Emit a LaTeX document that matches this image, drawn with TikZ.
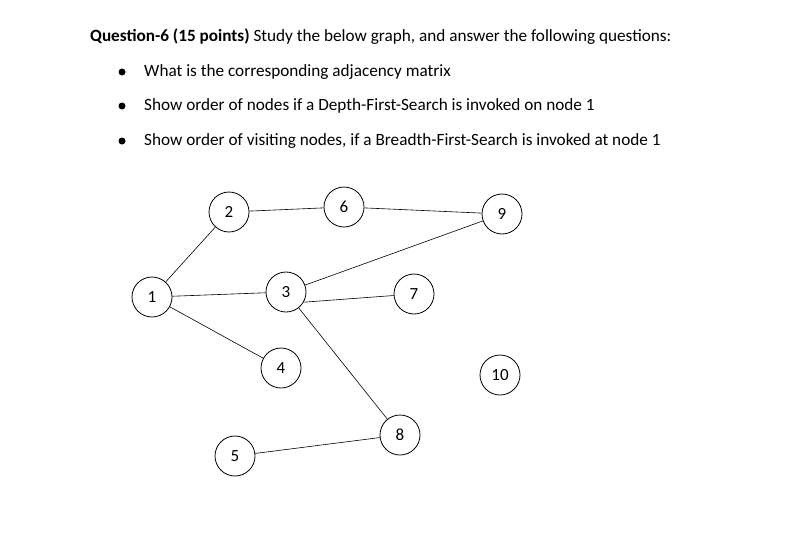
\documentclass[tikz,border=0pt]{standalone}
\usepackage{fontspec}
\setmainfont{Carlito}
\begin{document}
\begin{tikzpicture}[x=1pt,y=-1pt,
  vert/.style={circle,draw,thick,minimum size=40pt,inner sep=0pt,font=\fontsize{17}{17}\selectfont},
  txt/.style={anchor=west,inner sep=0pt,font=\fontsize{17.2}{20}\selectfont},
  edge/.style={draw,line width=0.6pt}]
\useasboundingbox (0,0) rectangle (810,535);
\node[txt] (t0) at (90,37) {\textbf{Question-6 (15 points)} Study the below graph, and answer the following questions:};
\node[txt] (t1) at (144,72) {What is the corresponding adjacency matrix};
\node[txt] (t2) at (144,106) {Show order of nodes if a Depth-First-Search is invoked on node 1};
\node[txt] (t3) at (144,141) {Show order of visiting nodes, if a Breadth-First-Search is invoked at node 1};
\foreach \y/\n in {72/b1,106/b2,141/b3} \fill (122,\y) circle (3.5pt);
\node[vert] (n1) at (152,297) {1};
\node[vert] (n2) at (229,212) {2};
\node[vert] (n6) at (344,207) {6};
\node[vert] (n9) at (502,214) {9};
\node[vert] (n3) at (286,292) {3};
\node[vert] (n7) at (414,294) {7};
\node[vert] (n4) at (281,368) {4};
\node[vert] (n10) at (500,375) {10};
\node[vert] (n8) at (400,435) {8};
\node[vert] (n5) at (235,456) {5};
\draw[edge] (n1)--(n2);
\draw[edge] (n2)--(n6);
\draw[edge] (n6)--(n9);
\draw[edge] (n1)--(n3);
\draw[edge] (n1)--(n4);
\draw[edge] (n3)--(n9);
\draw[edge] (n3.-30)--(n7);
\draw[edge] (n3)--(n8);
\draw[edge] (n8)--(n5);
\end{tikzpicture}
\end{document}
